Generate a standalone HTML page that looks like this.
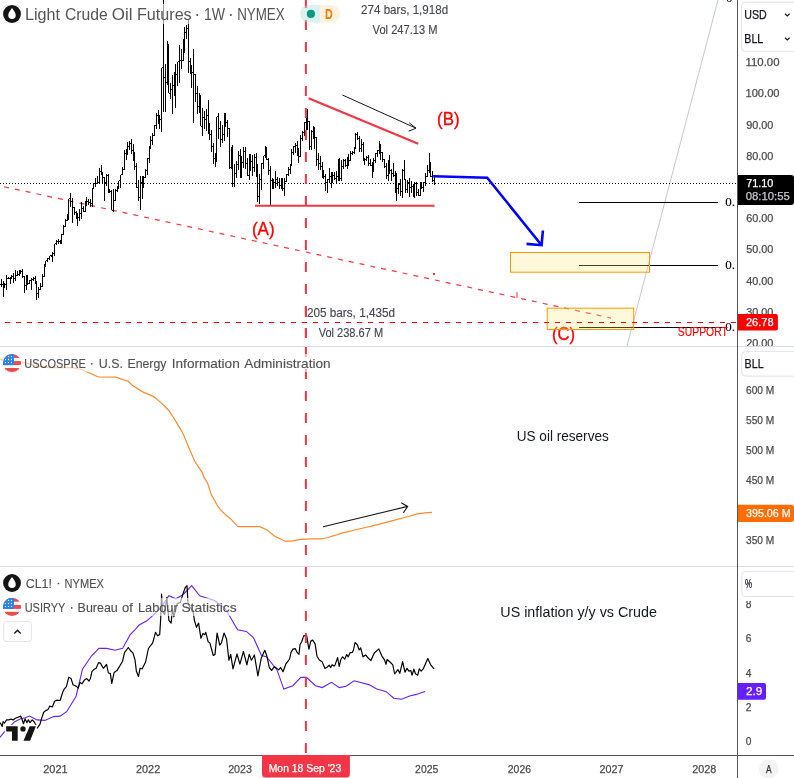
<!DOCTYPE html>
<html><head><meta charset="utf-8">
<style>
html,body{margin:0;padding:0;background:#fff;width:794px;height:778px;overflow:hidden}
svg{display:block;font-family:"Liberation Sans",sans-serif;will-change:transform}
</style></head><body>
<svg width="794" height="778" viewBox="0 0 794 778">
<defs>
<clipPath id="c1"><rect x="0" y="0" width="737" height="346"/></clipPath>
<clipPath id="c2"><rect x="0" y="347" width="737" height="219"/></clipPath>
<clipPath id="c3"><rect x="0" y="567" width="737" height="188"/></clipPath>
<clipPath id="cax"><rect x="0" y="0" width="737" height="778"/></clipPath>
</defs>
<rect width="794" height="778" fill="#fff"/>
<g clip-path="url(#c1)">
  <line x1="718" y1="0" x2="627" y2="346" stroke="#c3c6d4" stroke-width="1"/>
  <line x1="0" y1="183.5" x2="737" y2="183.5" stroke="#000" stroke-width="1" stroke-dasharray="1 2"/>
  <line x1="0" y1="185.85" x2="611" y2="318.07" stroke="#f23645" stroke-width="1.2" stroke-dasharray="5 6.02" stroke-dashoffset="6.83"/>
  <rect x="433" y="273" width="2" height="2" fill="#f23645"/>
  <path d="M-0.5 283.3V286.8M-1.5 285.5h1M-0.5 284.5h1M1.5 279.0V286.8M0.5 284.5h1M1.5 284.5h1M3.5 280.5V297.0M2.5 284.5h1M3.5 285.5h1M4.5 283.3V287.5M3.5 285.5h1M4.5 284.5h1M6.5 275.0V290.0M5.5 284.5h1M6.5 278.5h1M8.5 277.3V279.0M7.5 278.5h1M8.5 278.5h1M10.5 277.0V284.0M9.5 278.5h1M10.5 277.5h1M11.5 274.9V279.4M10.5 277.5h1M11.5 276.5h1M13.5 273.3V283.0M12.5 276.5h1M13.5 278.5h1M15.5 270.0V280.7M14.5 278.5h1M15.5 275.5h1M17.5 271.0V276.2M16.5 275.5h1M17.5 274.5h1M19.5 270.3V275.7M18.5 274.5h1M19.5 273.5h1M20.5 269.8V274.3M19.5 273.5h1M20.5 271.5h1M22.5 269.0V278.0M21.5 271.5h1M22.5 276.5h1M24.5 276.1V292.6M23.5 276.5h1M24.5 285.5h1M26.5 275.0V290.0M25.5 285.5h1M26.5 276.5h1M27.5 275.0V284.9M26.5 276.5h1M27.5 283.5h1M29.5 279.7V284.3M28.5 283.5h1M29.5 280.5h1M31.5 278.0V290.0M30.5 280.5h1M31.5 279.5h1M33.5 277.0V280.9M32.5 279.5h1M33.5 278.5h1M35.5 275.7V283.7M34.5 278.5h1M35.5 283.5h1M36.5 281.0V300.0M35.5 283.5h1M36.5 293.5h1M38.5 286.8V298.0M37.5 293.5h1M38.5 289.5h1M40.5 283.0V289.8M39.5 289.5h1M40.5 286.5h1M42.5 273.5V286.3M41.5 286.5h1M42.5 276.5h1M44.5 263.8V277.2M43.5 276.5h1M44.5 263.5h1M45.5 260.9V267.0M44.5 263.5h1M45.5 260.5h1M47.5 258.3V262.1M46.5 260.5h1M47.5 258.5h1M49.5 255.8V259.8M48.5 258.5h1M49.5 255.5h1M51.5 254.8V257.1M50.5 255.5h1M51.5 254.5h1M52.5 251.7V262.0M51.5 254.5h1M52.5 253.5h1M54.5 243.6V256.4M53.5 253.5h1M54.5 243.5h1M56.5 239.8V244.6M55.5 243.5h1M56.5 241.5h1M58.5 239.3V244.2M57.5 241.5h1M58.5 241.5h1M60.5 240.3V244.0M59.5 241.5h1M60.5 242.5h1M61.5 234.2V244.1M60.5 242.5h1M61.5 234.5h1M63.5 225.0V234.2M62.5 234.5h1M63.5 226.5h1M65.5 218.6V226.3M64.5 226.5h1M65.5 220.5h1M67.5 213.7V220.4M66.5 220.5h1M67.5 216.5h1M68.5 198.8V219.5M67.5 216.5h1M68.5 198.5h1M70.5 193.0V207.0M69.5 198.5h1M70.5 201.5h1M72.5 198.0V222.5M71.5 201.5h1M72.5 207.5h1M74.5 207.2V215.4M73.5 207.5h1M74.5 212.5h1M76.5 211.0V219.4M75.5 212.5h1M76.5 214.5h1M77.5 212.8V226.0M76.5 214.5h1M77.5 217.5h1M79.5 208.6V221.0M78.5 217.5h1M79.5 213.5h1M81.5 202.0V219.1M80.5 213.5h1M81.5 208.5h1M83.5 206.0V212.0M82.5 208.5h1M83.5 211.5h1M85.5 201.4V212.0M84.5 211.5h1M85.5 204.5h1M86.5 197.0V206.3M85.5 204.5h1M86.5 201.5h1M88.5 199.3V204.7M87.5 201.5h1M88.5 202.5h1M90.5 199.4V207.0M89.5 202.5h1M90.5 203.5h1M92.5 188.0V206.5M91.5 203.5h1M92.5 188.5h1M93.5 182.9V188.5M92.5 188.5h1M93.5 183.5h1M95.5 177.5V186.5M94.5 183.5h1M95.5 183.5h1M97.5 176.0V184.0M96.5 183.5h1M97.5 182.5h1M99.5 167.5V184.0M98.5 182.5h1M99.5 171.5h1M101.5 165.3V174.8M100.5 171.5h1M101.5 172.5h1M102.5 172.7V183.7M101.5 172.5h1M102.5 177.5h1M104.5 177.5V201.0M103.5 177.5h1M104.5 182.5h1M106.5 174.0V186.1M105.5 182.5h1M106.5 175.5h1M108.5 174.0V193.0M107.5 175.5h1M108.5 191.5h1M109.5 189.0V193.3M108.5 191.5h1M109.5 191.5h1M111.5 189.8V210.4M110.5 191.5h1M111.5 210.5h1M113.5 189.0V212.0M112.5 210.5h1M113.5 200.5h1M115.5 189.3V200.2M114.5 200.5h1M115.5 190.5h1M117.5 185.6V191.6M116.5 190.5h1M117.5 186.5h1M118.5 180.8V189.1M117.5 186.5h1M118.5 180.5h1M120.5 175.0V188.0M119.5 180.5h1M120.5 174.5h1M122.5 167.0V175.0M121.5 174.5h1M122.5 169.5h1M124.5 149.5V169.1M123.5 169.5h1M124.5 153.5h1M126.5 148.6V160.4M125.5 153.5h1M126.5 150.5h1M127.5 142.2V154.9M126.5 150.5h1M127.5 146.5h1M129.5 141.1V149.6M128.5 146.5h1M129.5 143.5h1M131.5 139.4V154.4M130.5 143.5h1M131.5 150.5h1M133.5 144.1V161.0M132.5 150.5h1M133.5 154.5h1M134.5 151.7V170.0M133.5 154.5h1M134.5 166.5h1M136.5 162.5V187.7M135.5 166.5h1M136.5 187.5h1M138.5 179.8V201.1M137.5 187.5h1M138.5 197.5h1M140.5 176.4V210.0M139.5 197.5h1M140.5 182.5h1M142.5 176.4V198.8M141.5 182.5h1M142.5 183.5h1M143.5 176.4V187.9M142.5 183.5h1M143.5 177.5h1M145.5 168.6V178.0M144.5 177.5h1M145.5 170.5h1M147.5 158.1V174.8M146.5 170.5h1M147.5 158.5h1M149.5 145.6V162.5M148.5 158.5h1M149.5 145.5h1M150.5 135.6V148.6M149.5 145.5h1M150.5 140.5h1M152.5 133.0V145.1M151.5 140.5h1M152.5 135.5h1M154.5 125.3V136.0M153.5 135.5h1M154.5 125.5h1M156.5 112.6V128.6M155.5 125.5h1M156.5 115.5h1M158.5 110.0V124.0M157.5 115.5h1M158.5 121.5h1M159.5 114.9V129.1M158.5 121.5h1M159.5 119.5h1M161.5 67.5V131.7M160.5 119.5h1M161.5 67.5h1M163.5 -3.0V112.0M162.5 67.5h1M163.5 77.5h1M165.5 64.0V112.0M164.5 77.5h1M165.5 82.5h1M167.5 40.5V85.0M166.5 82.5h1M167.5 51.5h1M168.5 44.2V93.2M167.5 51.5h1M168.5 93.5h1M170.5 83.4V99.1M169.5 93.5h1M170.5 89.5h1M172.5 75.0V114.0M171.5 89.5h1M172.5 85.5h1M174.5 71.6V96.2M173.5 85.5h1M174.5 86.5h1M175.5 64.0V108.0M174.5 86.5h1M175.5 74.5h1M177.5 61.6V85.8M176.5 74.5h1M177.5 61.5h1M179.5 45.0V83.0M178.5 61.5h1M179.5 60.5h1M181.5 49.4V69.3M180.5 60.5h1M181.5 60.5h1M183.5 38.5V60.3M182.5 60.5h1M183.5 43.5h1M184.5 26.6V53.2M183.5 43.5h1M184.5 32.5h1M186.5 25.0V39.2M185.5 32.5h1M186.5 28.5h1M188.5 19.3V73.0M187.5 28.5h1M188.5 61.5h1M190.5 57.5V73.8M189.5 61.5h1M190.5 69.5h1M191.5 65.4V88.0M190.5 69.5h1M191.5 72.5h1M193.5 48.7V123.0M192.5 72.5h1M193.5 74.5h1M195.5 74.8V101.8M194.5 74.5h1M195.5 93.5h1M197.5 86.0V113.6M196.5 93.5h1M197.5 106.5h1M199.5 93.2V112.8M198.5 106.5h1M199.5 98.5h1M200.5 94.7V126.4M199.5 98.5h1M200.5 126.5h1M202.5 108.0V136.0M201.5 126.5h1M202.5 117.5h1M204.5 111.4V129.3M203.5 117.5h1M204.5 119.5h1M206.5 108.6V130.8M205.5 119.5h1M206.5 115.5h1M208.5 100.0V134.0M207.5 115.5h1M208.5 132.5h1M209.5 123.0V139.9M208.5 132.5h1M209.5 134.5h1M211.5 130.4V151.6M210.5 134.5h1M211.5 146.5h1M213.5 143.0V163.5M212.5 146.5h1M213.5 158.5h1M215.5 153.3V167.0M214.5 158.5h1M215.5 156.5h1M216.5 116.8V161.7M215.5 156.5h1M216.5 116.5h1M218.5 113.0V139.1M217.5 116.5h1M218.5 128.5h1M220.5 121.0V147.0M219.5 128.5h1M220.5 139.5h1M222.5 125.0V143.0M221.5 139.5h1M222.5 134.5h1M224.5 113.0V140.6M223.5 134.5h1M224.5 116.5h1M225.5 113.0V126.7M224.5 116.5h1M225.5 122.5h1M227.5 119.8V136.8M226.5 122.5h1M227.5 128.5h1M229.5 128.5V169.0M228.5 128.5h1M229.5 167.5h1M231.5 147.2V169.0M230.5 167.5h1M231.5 156.5h1M232.5 145.0V186.6M231.5 156.5h1M232.5 183.5h1M234.5 164.0V186.6M233.5 183.5h1M234.5 173.5h1M236.5 161.0V178.0M235.5 173.5h1M236.5 164.5h1M238.5 150.7V169.6M237.5 164.5h1M238.5 155.5h1M240.5 149.0V178.0M239.5 155.5h1M240.5 174.5h1M241.5 155.9V178.0M240.5 174.5h1M241.5 162.5h1M243.5 147.0V168.0M242.5 162.5h1M243.5 151.5h1M245.5 147.0V168.9M244.5 151.5h1M245.5 163.5h1M247.5 158.0V175.8M246.5 163.5h1M247.5 175.5h1M249.5 154.0V180.0M248.5 175.5h1M249.5 156.5h1M250.5 154.0V170.6M249.5 156.5h1M250.5 161.5h1M252.5 154.8V175.6M251.5 161.5h1M252.5 167.5h1M254.5 154.0V171.6M253.5 167.5h1M254.5 157.5h1M256.5 153.0V176.9M255.5 157.5h1M256.5 176.5h1M257.5 164.0V201.6M256.5 176.5h1M257.5 196.5h1M259.5 174.4V204.0M258.5 196.5h1M259.5 179.5h1M261.5 163.0V190.0M260.5 179.5h1M261.5 163.5h1M263.5 156.0V168.6M262.5 163.5h1M263.5 155.5h1M265.5 145.5V158.0M264.5 155.5h1M265.5 148.5h1M266.5 147.2V159.9M265.5 148.5h1M266.5 159.5h1M268.5 158.0V175.0M267.5 159.5h1M268.5 170.5h1M270.5 165.5V206.0M269.5 170.5h1M270.5 180.5h1M272.5 178.1V189.0M271.5 180.5h1M272.5 186.5h1M273.5 179.0V189.0M272.5 186.5h1M273.5 182.5h1M275.5 171.0V188.1M274.5 182.5h1M275.5 179.5h1M277.5 176.6V186.3M276.5 179.5h1M277.5 182.5h1M279.5 178.4V188.6M278.5 182.5h1M279.5 185.5h1M281.5 178.2V188.5M280.5 185.5h1M281.5 180.5h1M282.5 178.0V190.7M281.5 180.5h1M282.5 188.5h1M284.5 178.0V196.0M283.5 188.5h1M284.5 181.5h1M286.5 173.5V181.8M285.5 181.5h1M286.5 174.5h1M288.5 166.8V176.0M287.5 174.5h1M288.5 169.5h1M290.5 164.0V174.0M289.5 169.5h1M290.5 165.5h1M291.5 148.8V165.1M290.5 165.5h1M291.5 152.5h1M293.5 145.5V155.0M292.5 152.5h1M293.5 146.5h1M295.5 143.4V153.0M294.5 146.5h1M295.5 145.5h1M297.5 141.0V155.7M296.5 145.5h1M297.5 152.5h1M298.5 148.4V162.5M297.5 152.5h1M298.5 156.5h1M300.5 135.3V156.3M299.5 156.5h1M300.5 138.5h1M302.5 131.1V141.0M301.5 138.5h1M302.5 132.5h1M304.5 122.2V135.6M303.5 132.5h1M304.5 122.5h1M306.5 116.0V130.0M305.5 122.5h1M306.5 121.5h1M307.5 108.5V130.0M306.5 121.5h1M307.5 121.5h1M309.5 121.2V150.0M308.5 121.5h1M309.5 146.5h1M311.5 130.0V150.0M310.5 146.5h1M311.5 131.5h1M313.5 125.5V139.1M312.5 131.5h1M313.5 129.5h1M314.5 127.3V148.6M313.5 129.5h1M314.5 137.5h1M316.5 137.0V165.6M315.5 137.5h1M316.5 159.5h1M318.5 152.5V170.0M317.5 159.5h1M318.5 163.5h1M320.5 156.4V169.8M319.5 163.5h1M320.5 166.5h1M322.5 161.9V178.0M321.5 166.5h1M322.5 170.5h1M323.5 170.0V179.3M322.5 170.5h1M323.5 176.5h1M325.5 174.1V190.5M324.5 176.5h1M325.5 182.5h1M327.5 179.0V193.4M326.5 182.5h1M327.5 179.5h1M329.5 168.0V183.4M328.5 179.5h1M329.5 176.5h1M331.5 171.9V188.0M330.5 176.5h1M331.5 180.5h1M332.5 171.9V182.9M331.5 180.5h1M332.5 175.5h1M334.5 172.4V180.3M333.5 175.5h1M334.5 178.5h1M336.5 170.7V183.0M335.5 178.5h1M336.5 176.5h1M338.5 159.1V180.7M337.5 176.5h1M338.5 162.5h1M339.5 158.0V180.7M338.5 162.5h1M339.5 178.5h1M341.5 159.6V180.7M340.5 178.5h1M341.5 166.5h1M343.5 159.0V168.6M342.5 166.5h1M343.5 160.5h1M345.5 159.1V167.4M344.5 160.5h1M345.5 165.5h1M347.5 156.9V168.6M346.5 165.5h1M347.5 156.5h1M348.5 153.5V165.7M347.5 156.5h1M348.5 160.5h1M350.5 151.1V161.0M349.5 160.5h1M350.5 153.5h1M352.5 151.0V154.7M351.5 153.5h1M352.5 152.5h1M354.5 146.6V153.7M353.5 152.5h1M354.5 148.5h1M355.5 132.8V148.3M354.5 148.5h1M355.5 134.5h1M357.5 132.0V140.4M356.5 134.5h1M357.5 138.5h1M359.5 136.0V152.0M358.5 138.5h1M359.5 148.5h1M361.5 139.2V152.0M360.5 148.5h1M361.5 144.5h1M363.5 141.5V161.0M362.5 144.5h1M363.5 160.5h1M364.5 157.6V165.0M363.5 160.5h1M364.5 159.5h1M366.5 156.0V161.1M365.5 159.5h1M366.5 157.5h1M368.5 154.7V166.0M367.5 157.5h1M368.5 163.5h1M370.5 159.3V166.0M369.5 163.5h1M370.5 165.5h1M372.5 162.3V178.4M371.5 165.5h1M372.5 168.5h1M373.5 158.0V171.9M372.5 168.5h1M373.5 160.5h1M375.5 152.6V162.8M374.5 160.5h1M375.5 153.5h1M377.5 150.0V156.8M376.5 153.5h1M377.5 150.5h1M379.5 141.3V154.3M378.5 150.5h1M379.5 146.5h1M380.5 144.4V159.8M379.5 146.5h1M380.5 152.5h1M382.5 153.0V161.7M381.5 152.5h1M382.5 159.5h1M384.5 158.5V168.0M383.5 159.5h1M384.5 166.5h1M386.5 162.8V178.5M385.5 166.5h1M386.5 175.5h1M388.5 160.0V181.4M387.5 175.5h1M388.5 165.5h1M389.5 155.0V174.0M388.5 165.5h1M389.5 170.5h1M391.5 169.0V181.0M390.5 170.5h1M391.5 173.5h1M393.5 163.0V177.0M392.5 173.5h1M393.5 175.5h1M395.5 171.0V192.9M394.5 175.5h1M395.5 192.5h1M396.5 173.0V201.0M395.5 192.5h1M396.5 188.5h1M398.5 182.9V194.1M397.5 188.5h1M398.5 184.5h1M400.5 179.0V196.0M399.5 184.5h1M400.5 191.5h1M402.5 169.0V198.0M401.5 191.5h1M402.5 170.5h1M404.5 160.3V179.7M403.5 170.5h1M404.5 179.5h1M405.5 179.7V192.7M404.5 179.5h1M405.5 189.5h1M407.5 180.0V192.7M406.5 189.5h1M407.5 182.5h1M409.5 178.0V196.8M408.5 182.5h1M409.5 187.5h1M411.5 181.3V192.7M410.5 187.5h1M411.5 186.5h1M413.5 183.9V196.9M412.5 186.5h1M413.5 195.5h1M414.5 182.0V198.0M413.5 195.5h1M414.5 183.5h1M416.5 182.2V196.0M415.5 183.5h1M416.5 192.5h1M418.5 189.0V196.0M417.5 192.5h1M418.5 195.5h1M420.5 182.0V196.0M419.5 195.5h1M420.5 183.5h1M421.5 182.0V188.5M420.5 183.5h1M421.5 187.5h1M423.5 182.0V191.7M422.5 187.5h1M423.5 182.5h1M425.5 173.0V185.5M424.5 182.5h1M425.5 176.5h1M427.5 165.1V176.6M426.5 176.5h1M427.5 170.5h1M429.5 153.0V173.0M428.5 170.5h1M429.5 164.5h1M430.5 161.8V176.6M429.5 164.5h1M430.5 176.5h1M432.5 171.0V182.0M431.5 176.5h1M432.5 180.5h1M434.5 176.2V184.5M433.5 180.5h1M434.5 183.5h1" stroke="#000" stroke-width="1" fill="none" shape-rendering="crispEdges"/>
  <path d="M579 202.5H718M579 265.5H718M579 327.5H726" stroke="#000" stroke-width="1.2"/>
  <rect x="510.5" y="252.5" width="139" height="19.7" fill="rgba(255,235,130,0.28)" stroke="#ff9800" stroke-width="1"/>
  <text x="551.90" y="340" font-size="18.2" fill="#ff0000" stroke="#ff0000" stroke-width="0.3" textLength="23.10" lengthAdjust="spacingAndGlyphs">(C)</text>
  <rect x="547.2" y="308.2" width="86.5" height="21.3" fill="rgba(255,235,130,0.28)" stroke="#ff9800" stroke-width="1"/>
  <line x1="4.9" y1="322.5" x2="737" y2="322.5" stroke="#ff0000" stroke-width="1.1" stroke-dasharray="5.2 5.8"/>
  <line x1="255" y1="205.8" x2="434.5" y2="205.8" stroke="#f23645" stroke-width="2"/>
  <line x1="308.6" y1="98.2" x2="418.2" y2="143.8" stroke="#f23645" stroke-width="2.2"/>
  <path d="M342.4 95L416 128.2M409.2 122.8L416 128.2L408.6 131.2" stroke="#131722" stroke-width="1" fill="none"/>
  <path d="M433.2 176.3L487.2 177.8L541.6 245.2M526.5 243.9L541.6 245.2L542.9 230.5" stroke="#0000ff" stroke-width="2.6" fill="none"/>
  <line x1="517" y1="292" x2="517" y2="298" stroke="#f23645" stroke-width="1"/>
  <line x1="305.9" y1="307" x2="305.9" y2="317" stroke="#f23645" stroke-width="2"/>
  <line x1="305.9" y1="328" x2="305.9" y2="338" stroke="#f23645" stroke-width="2"/>
  <text x="725.3" y="206" font-family="Liberation Serif" font-size="13" fill="#000" stroke="#000" stroke-width="0.12">0.</text><text x="725.3" y="269" font-family="Liberation Serif" font-size="13" fill="#000" stroke="#000" stroke-width="0.12">0.</text><text x="725.3" y="330.9" font-family="Liberation Serif" font-size="13" fill="#000" stroke="#000" stroke-width="0.12">0.</text>
  <text x="725.9" y="2.2" font-family="Liberation Serif" font-size="13" fill="#000">0</text>
</g>
<g clip-path="url(#c2)">
  <path d="M0.0 359.6 L22.7 362.0 L37.8 366.4 L47.9 367.6 L73.0 367.6 L83.0 370.0 L98.2 377.0 L115.9 377.2 L128.5 381.5 L132.2 385.3 L142.3 391.6 L153.7 396.6 L161.2 402.9 L168.8 410.5 L173.8 418.0 L181.4 430.6 L184.1 436.0 L188.1 446.1 L195.2 462.2 L202.2 472.3 L203.9 477.4 L207.3 482.4 L211.3 494.5 L217.4 505.6 L220.4 509.6 L226.4 515.6 L230.5 518.7 L237.5 526.3 L239.5 526.7 L259.7 526.7 L266.7 529.7 L274.8 536.2 L284.9 541.2 L290.9 541.2 L301.0 539.4 L311.1 538.8 L319.8 538.8 L326.4 538.0 L342.7 532.9 L359.1 529.0 L375.5 525.2 L391.9 520.8 L408.2 516.5 L416.4 514.1 L424.6 512.9 L432.0 512.4" stroke="#ff8a2a" stroke-width="1.2" fill="none"/>
  <path d="M323.1 526.8L407.7 506.4M401.2 502.8L407.7 506.4L403.3 512.9" stroke="#131722" stroke-width="1.1" fill="none"/>
</g>
<g clip-path="url(#c3)">
  <path d="M0.0 737.3 L4.1 732.1 L8.2 728.0 L14.4 721.9 L20.6 718.8 L25.1 717.7 L29.5 716.1 L32.8 717.7 L37.1 719.9 L44.8 720.4 L53.5 716.6 L60.1 716.1 L66.6 711.7 L70.0 706.2 L76.1 696.2 L82.5 669.2 L91.4 656.0 L99.0 648.4 L106.6 648.4 L115.1 650.3 L122.6 648.4 L130.2 634.7 L134.9 630.0 L138.8 625.3 L146.8 620.8 L154.7 613.8 L161.7 606.7 L168.8 595.8 L175.8 598.8 L182.9 594.7 L191.7 585.6 L199.7 595.8 L214.6 600.6 L225.2 608.5 L237.6 629.7 L246.4 631.4 L253.4 637.6 L261.4 655.2 L266.7 657.0 L277.0 669.9 L283.8 689.1 L292.9 685.7 L300.8 677.4 L306.5 677.4 L315.5 685.7 L322.3 687.6 L331.4 682.3 L339.3 687.6 L346.1 686.2 L354.1 680.8 L368.8 684.6 L376.8 689.1 L385.8 691.4 L393.8 698.2 L401.7 699.3 L409.6 696.0 L416.4 694.4 L425.0 691.4" stroke="#651fff" stroke-width="1.1" fill="none"/>
  <path d="M0.0 722.6 L1.1 724.3 L2.2 726.4 L3.1 721.5 L4.4 723.2 L6.6 719.9 L8.7 719.9 L10.9 719.1 L13.1 719.9 L15.3 718.3 L18.0 717.2 L20.7 716.1 L21.8 718.8 L23.5 723.7 L25.1 718.8 L26.8 722.6 L28.4 719.9 L30.0 722.6 L32.2 719.9 L33.9 721.5 L35.5 724.3 L37.1 728.1 L39.9 724.3 L41.5 718.8 L43.7 712.2 L45.9 710.6 L48.0 709.5 L49.7 706.2 L52.4 706.8 L54.6 701.3 L56.8 700.2 L60.1 700.5 L62.8 692.0 L64.4 688.8 L66.4 686.7 L68.8 677.2 L71.1 678.6 L73.0 684.8 L75.4 685.7 L76.8 686.7 L78.2 688.1 L80.1 682.4 L82.0 683.8 L84.4 680.1 L86.7 678.6 L89.1 681.0 L90.5 678.2 L91.9 671.6 L94.3 669.2 L96.2 668.3 L98.5 662.6 L100.4 663.1 L103.3 668.3 L106.6 664.5 L108.4 673.0 L110.3 673.4 L111.8 683.4 L114.1 672.5 L117.0 670.6 L122.6 661.2 L124.5 652.7 L128.3 647.5 L131.1 651.3 L133.0 653.1 L135.0 659.9 L136.4 671.2 L138.5 676.5 L140.0 668.3 L142.1 669.0 L145.6 662.0 L148.4 648.5 L152.7 642.9 L155.5 632.3 L157.6 635.8 L159.7 634.4 L160.7 618.8 L161.6 594.1 L162.6 611.8 L164.7 614.6 L166.8 597.6 L168.9 620.3 L171.1 623.1 L172.5 608.9 L173.9 616.7 L177.4 603.3 L180.3 602.6 L183.1 593.4 L185.2 587.7 L187.0 585.6 L188.0 603.3 L190.2 607.5 L193.0 610.4 L194.4 620.3 L196.5 627.3 L198.6 623.1 L200.9 638.2 L202.9 633.6 L204.6 634.7 L205.8 632.4 L208.1 641.7 L209.8 642.8 L213.3 655.5 L215.0 654.4 L217.1 633.0 L219.7 645.1 L221.4 642.8 L224.1 633.0 L226.6 639.3 L228.9 660.2 L230.7 654.4 L233.0 668.8 L237.0 653.8 L239.9 664.2 L243.4 651.5 L246.9 664.8 L249.2 654.4 L251.5 660.2 L254.4 655.0 L257.9 675.8 L261.3 657.9 L264.8 650.3 L266.9 656.2 L269.3 667.5 L271.6 670.3 L274.4 666.6 L276.8 668.4 L278.7 669.9 L280.6 667.5 L283.0 671.8 L285.8 664.2 L289.6 659.0 L291.0 652.4 L292.9 649.1 L295.2 648.6 L297.1 652.4 L299.0 654.3 L300.0 644.8 L301.8 641.5 L303.7 635.9 L306.6 635.4 L308.9 649.1 L310.8 641.1 L312.7 640.1 L315.1 643.9 L317.0 656.2 L319.3 660.0 L322.1 661.8 L325.0 668.4 L327.3 667.0 L329.2 665.1 L330.6 667.5 L332.1 664.7 L334.0 666.1 L335.0 665.1 L337.6 657.6 L339.2 666.3 L340.7 659.8 L342.6 656.8 L344.8 659.1 L346.7 654.6 L348.2 656.8 L350.1 652.7 L352.4 652.3 L353.5 650.0 L355.0 642.5 L357.3 644.7 L359.2 650.0 L360.7 647.8 L363.0 656.8 L365.6 654.9 L368.2 658.0 L370.9 660.6 L374.3 653.0 L378.8 648.9 L381.9 656.1 L384.5 659.8 L386.0 664.4 L387.1 659.5 L390.0 662.0 L392.8 664.8 L394.7 674.0 L397.9 669.6 L399.8 673.3 L402.6 661.7 L405.0 672.1 L407.0 668.3 L408.9 671.1 L410.8 670.5 L412.0 675.2 L413.9 669.2 L415.5 673.7 L417.7 675.2 L419.3 668.9 L421.2 671.1 L423.4 668.6 L427.8 658.5 L430.9 665.2 L434.1 668.9" stroke="#000" stroke-width="1.2" fill="none" stroke-linejoin="round"/>
  <g stroke="#fff" stroke-width="3" stroke-linejoin="round" paint-order="stroke" fill="#141414">
    <path d="M6.2 726.2H17.7V740.7H12V731.6H6.2Z"/>
    <circle cx="23" cy="728.9" r="2.7"/>
    <path d="M29.7 726.2H35.9L30.1 740.7H23.5Z"/>
  </g>
</g>
<line x1="305.9" y1="0" x2="305.9" y2="346" stroke="#f23645" stroke-width="2" stroke-dasharray="10 12" stroke-dashoffset="2"/>
<line x1="305.9" y1="347" x2="305.9" y2="566" stroke="#f23645" stroke-width="2" stroke-dasharray="10 12"/>
<line x1="305.9" y1="567" x2="305.9" y2="755" stroke="#f23645" stroke-width="2" stroke-dasharray="10 12"/>
<!-- legend backgrounds -->
<rect x="0" y="4" width="290" height="20" fill="rgba(255,255,255,0.6)"/>
<rect x="0" y="354" width="334" height="18" fill="rgba(255,255,255,0.6)"/>
<rect x="0" y="574" width="108" height="18" fill="rgba(255,255,255,0.6)"/>
<rect x="0" y="598" width="240" height="18" fill="rgba(255,255,255,0.6)"/>
<circle cx="12" cy="14" r="8.95" fill="#141414"/><path d="M12 8.10C10.00 11.00 8.25 13.00 8.25 15.25A3.75 3.75 0 0 0 15.75 15.25C15.75 13.00 14.00 11.00 12 8.10Z" fill="#fff"/>
<circle cx="12" cy="583" r="8.95" fill="#141414"/><path d="M12 577.10C10.00 580.00 8.25 582.00 8.25 584.25A3.75 3.75 0 0 0 15.75 584.25C15.75 582.00 14.00 580.00 12 577.10Z" fill="#fff"/>
<clipPath id="f363"><circle cx="12" cy="363" r="9.1"/></clipPath><g clip-path="url(#f363)"><rect x="2.9000000000000004" y="353.9" width="18.2" height="18.2" fill="#fff"/><rect x="2.9000000000000004" y="353.9" width="18.2" height="4" fill="#ec4c4c"/><rect x="2.9000000000000004" y="361.1" width="18.2" height="4" fill="#ec4c4c"/><rect x="2.9000000000000004" y="368.0" width="18.2" height="4.2" fill="#ec4c4c"/><rect x="2.9000000000000004" y="353.9" width="11.1" height="11.2" fill="#2a83e6"/><circle cx="5.5" cy="356.6" r="0.65" fill="#fff"/><circle cx="5.5" cy="359.5" r="0.65" fill="#fff"/><circle cx="5.5" cy="362.5" r="0.65" fill="#fff"/><circle cx="8.5" cy="356.6" r="0.65" fill="#fff"/><circle cx="8.5" cy="359.5" r="0.65" fill="#fff"/><circle cx="8.5" cy="362.5" r="0.65" fill="#fff"/><circle cx="11.4" cy="356.6" r="0.65" fill="#fff"/><circle cx="11.4" cy="359.5" r="0.65" fill="#fff"/><circle cx="11.4" cy="362.5" r="0.65" fill="#fff"/></g>
<clipPath id="f606"><circle cx="12" cy="606.8" r="9.1"/></clipPath><g clip-path="url(#f606)"><rect x="2.9000000000000004" y="597.6999999999999" width="18.2" height="18.2" fill="#fff"/><rect x="2.9000000000000004" y="597.7" width="18.2" height="4" fill="#ec4c4c"/><rect x="2.9000000000000004" y="604.9" width="18.2" height="4" fill="#ec4c4c"/><rect x="2.9000000000000004" y="611.8" width="18.2" height="4.2" fill="#ec4c4c"/><rect x="2.9000000000000004" y="597.7" width="11.1" height="11.2" fill="#2a83e6"/><circle cx="5.5" cy="600.4" r="0.65" fill="#fff"/><circle cx="5.5" cy="603.3" r="0.65" fill="#fff"/><circle cx="5.5" cy="606.3" r="0.65" fill="#fff"/><circle cx="8.5" cy="600.4" r="0.65" fill="#fff"/><circle cx="8.5" cy="603.3" r="0.65" fill="#fff"/><circle cx="8.5" cy="606.3" r="0.65" fill="#fff"/><circle cx="11.4" cy="600.4" r="0.65" fill="#fff"/><circle cx="11.4" cy="603.3" r="0.65" fill="#fff"/><circle cx="11.4" cy="606.3" r="0.65" fill="#fff"/></g>
<circle cx="197.2" cy="15" r="0.95" fill="#4a4a4a"/>
<circle cx="230.9" cy="15" r="0.95" fill="#4a4a4a"/>
<circle cx="91.8" cy="363.8" r="0.85" fill="#4a4a4a"/>
<circle cx="58.5" cy="583.5" r="0.85" fill="#4a4a4a"/>
<circle cx="71.7" cy="607.9" r="0.85" fill="#4a4a4a"/>
<rect x="3.6" y="621.5" width="27.8" height="20" rx="3" fill="#fff" stroke="#e0e3eb" stroke-width="1"/>
<path d="M14.3 633.4L17.5 630.2L20.7 633.4" stroke="#131722" stroke-width="1.4" fill="none"/>
<path d="M308.9 5H319.9V22.7H308.9A8.85 8.85 0 0 1 308.9 5Z" fill="rgba(178,223,219,0.45)"/>
<path d="M319.9 5H331.3A8.85 8.85 0 0 1 331.3 22.7H319.9Z" fill="rgba(255,224,178,0.4)"/>
<circle cx="310.9" cy="13.9" r="4.1" fill="#089981"/>
<!-- separators & axes -->
<line x1="0" y1="346.5" x2="794" y2="346.5" stroke="#d9dbef" stroke-width="1"/>
<line x1="0" y1="566.5" x2="794" y2="566.5" stroke="#d9dbef" stroke-width="1"/>
<line x1="737.5" y1="0" x2="737.5" y2="778" stroke="#555" stroke-width="1"/>
<line x1="0" y1="755.5" x2="794" y2="755.5" stroke="#555" stroke-width="1"/>
<!-- axis boxes (labels drawn before: tick labels) -->
<clipPath id="cp1"><rect x="738" y="0" width="56" height="346"/></clipPath><g clip-path="url(#cp1)"><text x="745.50" y="66.2" font-size="11.7" fill="#4a4a4a" stroke="#4a4a4a" stroke-width="0.25" textLength="34.00" lengthAdjust="spacingAndGlyphs">110.00</text>
<text x="745.50" y="97.3" font-size="11.7" fill="#4a4a4a" stroke="#4a4a4a" stroke-width="0.25" textLength="34.00" lengthAdjust="spacingAndGlyphs">100.00</text>
<text x="746.20" y="128.6" font-size="11.7" fill="#4a4a4a" stroke="#4a4a4a" stroke-width="0.25" textLength="27.20" lengthAdjust="spacingAndGlyphs">90.00</text>
<text x="746.20" y="159.8" font-size="11.7" fill="#4a4a4a" stroke="#4a4a4a" stroke-width="0.25" textLength="27.20" lengthAdjust="spacingAndGlyphs">80.00</text>
<text x="746.20" y="222.2" font-size="11.7" fill="#4a4a4a" stroke="#4a4a4a" stroke-width="0.25" textLength="27.20" lengthAdjust="spacingAndGlyphs">60.00</text>
<text x="746.20" y="253.4" font-size="11.7" fill="#4a4a4a" stroke="#4a4a4a" stroke-width="0.25" textLength="27.20" lengthAdjust="spacingAndGlyphs">50.00</text>
<text x="746.20" y="284.6" font-size="11.7" fill="#4a4a4a" stroke="#4a4a4a" stroke-width="0.25" textLength="27.20" lengthAdjust="spacingAndGlyphs">40.00</text>
<text x="746.20" y="315.8" font-size="11.7" fill="#4a4a4a" stroke="#4a4a4a" stroke-width="0.25" textLength="27.20" lengthAdjust="spacingAndGlyphs">30.00</text>
<text x="746.20" y="347.0" font-size="11.7" fill="#4a4a4a" stroke="#4a4a4a" stroke-width="0.25" textLength="27.20" lengthAdjust="spacingAndGlyphs">20.00</text></g>
<text x="746.00" y="394.1" font-size="11.1" fill="#4a4a4a" stroke="#4a4a4a" stroke-width="0.25" textLength="28.30" lengthAdjust="spacingAndGlyphs">600 M</text>
<text x="746.00" y="423.9" font-size="11.1" fill="#4a4a4a" stroke="#4a4a4a" stroke-width="0.25" textLength="28.30" lengthAdjust="spacingAndGlyphs">550 M</text>
<text x="746.00" y="454.1" font-size="11.1" fill="#4a4a4a" stroke="#4a4a4a" stroke-width="0.25" textLength="28.30" lengthAdjust="spacingAndGlyphs">500 M</text>
<text x="746.00" y="484.1" font-size="11.1" fill="#4a4a4a" stroke="#4a4a4a" stroke-width="0.25" textLength="28.30" lengthAdjust="spacingAndGlyphs">450 M</text>
<text x="746.00" y="544.1" font-size="11.1" fill="#4a4a4a" stroke="#4a4a4a" stroke-width="0.25" textLength="28.30" lengthAdjust="spacingAndGlyphs">350 M</text>
<text x="745.70" y="607.6" font-size="11.2" fill="#4a4a4a" stroke="#4a4a4a" stroke-width="0.25" textLength="5.70" lengthAdjust="spacingAndGlyphs">8</text>
<text x="745.70" y="642.2" font-size="11.2" fill="#4a4a4a" stroke="#4a4a4a" stroke-width="0.25" textLength="5.70" lengthAdjust="spacingAndGlyphs">6</text>
<text x="745.70" y="676.6" font-size="11.2" fill="#4a4a4a" stroke="#4a4a4a" stroke-width="0.25" textLength="5.70" lengthAdjust="spacingAndGlyphs">4</text>
<text x="745.70" y="710.9" font-size="11.2" fill="#4a4a4a" stroke="#4a4a4a" stroke-width="0.25" textLength="5.70" lengthAdjust="spacingAndGlyphs">2</text>
<text x="745.70" y="745.2" font-size="11.2" fill="#4a4a4a" stroke="#4a4a4a" stroke-width="0.25" textLength="5.70" lengthAdjust="spacingAndGlyphs">0</text>
<rect x="741.5" y="2.2" width="60" height="49.2" rx="4" fill="#fff" stroke="#e0e3eb" stroke-width="1"/>
<path d="M785 13.8L787.3 16L789.6 13.8M785 37.8L787.3 40L789.6 37.8" stroke="#131722" stroke-width="1.2" fill="none"/>
<path d="M738 175H791A3 3 0 0 1 794 178V202A3 3 0 0 1 791 205H738Z" fill="#000"/>
<path d="M738 314.1H775.9A2 2 0 0 1 777.9 316.1V328.6A2 2 0 0 1 775.9 330.6H738Z" fill="#ff0000"/>
<rect x="741.7" y="351.4" width="60" height="24.7" rx="4" fill="#fff" stroke="#e0e3eb" stroke-width="1"/>
<path d="M738 504.8H791A3 3 0 0 1 794 507.8V518.9A3 3 0 0 1 791 521.9H738Z" fill="#ff6d00"/>
<rect x="739" y="597" width="55" height="4" fill="#fff"/>
<rect x="741.8" y="571.4" width="60" height="25.1" rx="4" fill="#fff" stroke="#e0e3eb" stroke-width="1"/>
<path d="M737.7 683H764A2 2 0 0 1 766 685V697.8A2 2 0 0 1 764 699.8H737.7Z" fill="#651fff"/>
<path d="M262 755H349.9V774A3.5 3.5 0 0 1 346.4 777.5H265.5A3.5 3.5 0 0 1 262 774Z" fill="#f23645"/>
<circle cx="768.6" cy="769.2" r="9.7" fill="#f2f2f2"/>
<text x="25.00" y="19.9" font-size="15.8" fill="#555" textLength="35.00" lengthAdjust="spacingAndGlyphs">Light</text>
<text x="65.00" y="19.9" font-size="15.8" fill="#555" textLength="42.70" lengthAdjust="spacingAndGlyphs">Crude</text>
<text x="111.80" y="19.9" font-size="15.8" fill="#555" textLength="20.70" lengthAdjust="spacingAndGlyphs">Oil</text>
<text x="137.00" y="19.9" font-size="15.8" fill="#555" textLength="54.70" lengthAdjust="spacingAndGlyphs">Futures</text>
<text x="203.90" y="19.9" font-size="15.8" fill="#555" textLength="21.10" lengthAdjust="spacingAndGlyphs">1W</text>
<text x="237.20" y="19.9" font-size="15.8" fill="#555" textLength="47.50" lengthAdjust="spacingAndGlyphs">NYMEX</text>
<text x="24.30" y="368" font-size="13" fill="#505050" stroke="#505050" stroke-width="0.12" textLength="61.60" lengthAdjust="spacingAndGlyphs">USCOSPRE</text>
<text x="98.80" y="368" font-size="13" fill="#505050" stroke="#505050" stroke-width="0.12" textLength="24.20" lengthAdjust="spacingAndGlyphs">U.S.</text>
<text x="127.50" y="368" font-size="13" fill="#505050" stroke="#505050" stroke-width="0.12" textLength="38.90" lengthAdjust="spacingAndGlyphs">Energy</text>
<text x="171.80" y="368" font-size="13" fill="#505050" stroke="#505050" stroke-width="0.12" textLength="67.90" lengthAdjust="spacingAndGlyphs">Information</text>
<text x="244.30" y="368" font-size="13" fill="#505050" stroke="#505050" stroke-width="0.12" textLength="86.30" lengthAdjust="spacingAndGlyphs">Administration</text>
<text x="25.70" y="587.6" font-size="12.8" fill="#505050" stroke="#505050" stroke-width="0.12" textLength="26.30" lengthAdjust="spacingAndGlyphs">CL1!</text>
<text x="64.60" y="587.6" font-size="12.8" fill="#505050" stroke="#505050" stroke-width="0.12" textLength="39.30" lengthAdjust="spacingAndGlyphs">NYMEX</text>
<text x="24.70" y="612" font-size="12.8" fill="#505050" stroke="#505050" stroke-width="0.12" textLength="40.60" lengthAdjust="spacingAndGlyphs">USIRYY</text>
<text x="77.60" y="612" font-size="12.8" fill="#505050" stroke="#505050" stroke-width="0.12" textLength="40.20" lengthAdjust="spacingAndGlyphs">Bureau</text>
<text x="122.00" y="612" font-size="12.8" fill="#505050" stroke="#505050" stroke-width="0.12" textLength="10.80" lengthAdjust="spacingAndGlyphs">of</text>
<text x="138.00" y="612" font-size="12.8" fill="#505050" stroke="#505050" stroke-width="0.12" textLength="39.70" lengthAdjust="spacingAndGlyphs">Labour</text>
<text x="181.40" y="612" font-size="12.8" fill="#505050" stroke="#505050" stroke-width="0.12" textLength="55.30" lengthAdjust="spacingAndGlyphs">Statistics</text>
<text x="361.10" y="14.3" font-size="12.6" fill="#434651" stroke="#434651" stroke-width="0.12" textLength="87.00" lengthAdjust="spacingAndGlyphs">274 bars, 1,918d</text>
<text x="372.60" y="34" font-size="12.8" fill="#434651" stroke="#434651" stroke-width="0.12" textLength="65.00" lengthAdjust="spacingAndGlyphs">Vol 247.13 M</text>
<text x="306.90" y="316.9" font-size="12.6" fill="#434651" stroke="#434651" stroke-width="0.12" textLength="88.20" lengthAdjust="spacingAndGlyphs">205 bars, 1,435d</text>
<text x="318.70" y="337" font-size="12.8" fill="#434651" stroke="#434651" stroke-width="0.12" textLength="64.40" lengthAdjust="spacingAndGlyphs">Vol 238.67 M</text>
<text x="251.90" y="234.6" font-size="18.2" fill="#ff0000" stroke="#ff0000" stroke-width="0.3" textLength="22.80" lengthAdjust="spacingAndGlyphs">(A)</text>
<text x="437.10" y="124.9" font-size="18.2" fill="#ff0000" stroke="#ff0000" stroke-width="0.3" textLength="22.60" lengthAdjust="spacingAndGlyphs">(B)</text>
<text x="677.80" y="336" font-size="12.6" fill="#ff0000" stroke="#ff0000" stroke-width="0.12" textLength="50.00" lengthAdjust="spacingAndGlyphs">SUPPORT</text>
<text x="516.70" y="441" font-size="14.3" fill="#131722" textLength="92.10" lengthAdjust="spacingAndGlyphs">US oil reserves</text>
<text x="500.30" y="617.2" font-size="14" fill="#131722" textLength="156.70" lengthAdjust="spacingAndGlyphs">US inflation y/y vs Crude</text>
<text x="744.30" y="19" font-size="11.9" fill="#131722" stroke="#131722" stroke-width="0.25" textLength="22.40" lengthAdjust="spacingAndGlyphs">USD</text>
<text x="744.30" y="42.8" font-size="11.9" fill="#131722" stroke="#131722" stroke-width="0.25" textLength="19.00" lengthAdjust="spacingAndGlyphs">BLL</text>
<text x="746.20" y="187" font-size="11.2" fill="#fff" stroke="#fff" stroke-width="0.25" textLength="27.20" lengthAdjust="spacingAndGlyphs">71.10</text>
<text x="745.70" y="199.9" font-size="11.4" fill="#c8cad0" stroke="#c8cad0" stroke-width="0.25" textLength="44.10" lengthAdjust="spacingAndGlyphs">08:10:55</text>
<text x="746.00" y="326.1" font-size="11.7" fill="#fff" stroke="#fff" stroke-width="0.25" textLength="27.50" lengthAdjust="spacingAndGlyphs">26.78</text>
<text x="744.60" y="368" font-size="11.9" fill="#131722" stroke="#131722" stroke-width="0.25" textLength="19.00" lengthAdjust="spacingAndGlyphs">BLL</text>
<text x="746.00" y="517.1" font-size="11.5" fill="#fff" stroke="#fff" stroke-width="0.25" textLength="44.70" lengthAdjust="spacingAndGlyphs">395.06 M</text>
<text x="744.90" y="587.9" font-size="11.9" fill="#131722" stroke="#131722" stroke-width="0.25" textLength="7.00" lengthAdjust="spacingAndGlyphs">%</text>
<text x="745.90" y="695" font-size="11.6" fill="#fff" stroke="#fff" stroke-width="0.25" textLength="16.40" lengthAdjust="spacingAndGlyphs">2.9</text>
<text x="43.30" y="773" font-size="11.4" fill="#4a4a4a" stroke="#4a4a4a" stroke-width="0.25" textLength="24.20" lengthAdjust="spacingAndGlyphs">2021</text>
<text x="136.00" y="773" font-size="11.4" fill="#4a4a4a" stroke="#4a4a4a" stroke-width="0.25" textLength="24.20" lengthAdjust="spacingAndGlyphs">2022</text>
<text x="228.20" y="773" font-size="11.4" fill="#4a4a4a" stroke="#4a4a4a" stroke-width="0.25" textLength="23.70" lengthAdjust="spacingAndGlyphs">2023</text>
<text x="415.10" y="773" font-size="11.4" fill="#4a4a4a" stroke="#4a4a4a" stroke-width="0.25" textLength="23.20" lengthAdjust="spacingAndGlyphs">2025</text>
<text x="507.80" y="773" font-size="11.4" fill="#4a4a4a" stroke="#4a4a4a" stroke-width="0.25" textLength="23.20" lengthAdjust="spacingAndGlyphs">2026</text>
<text x="599.50" y="773" font-size="11.4" fill="#4a4a4a" stroke="#4a4a4a" stroke-width="0.25" textLength="24.00" lengthAdjust="spacingAndGlyphs">2027</text>
<text x="692.20" y="773" font-size="11.4" fill="#4a4a4a" stroke="#4a4a4a" stroke-width="0.25" textLength="24.00" lengthAdjust="spacingAndGlyphs">2028</text>
<text x="268.70" y="772" font-size="11.5" fill="#fff" stroke="#fff" stroke-width="0.25" textLength="72.50" lengthAdjust="spacingAndGlyphs">Mon 18 Sep '23</text>
<text x="765.90" y="772.8" font-size="11.2" fill="#333" stroke="#333" stroke-width="0.25" textLength="5.60" lengthAdjust="spacingAndGlyphs">A</text>
<text x="324.90" y="18.9" font-size="13.8" fill="#f57c00" stroke="#f57c00" stroke-width="0.12" font-weight="bold" textLength="7.70" lengthAdjust="spacingAndGlyphs">D</text>
</svg>
</body></html>
